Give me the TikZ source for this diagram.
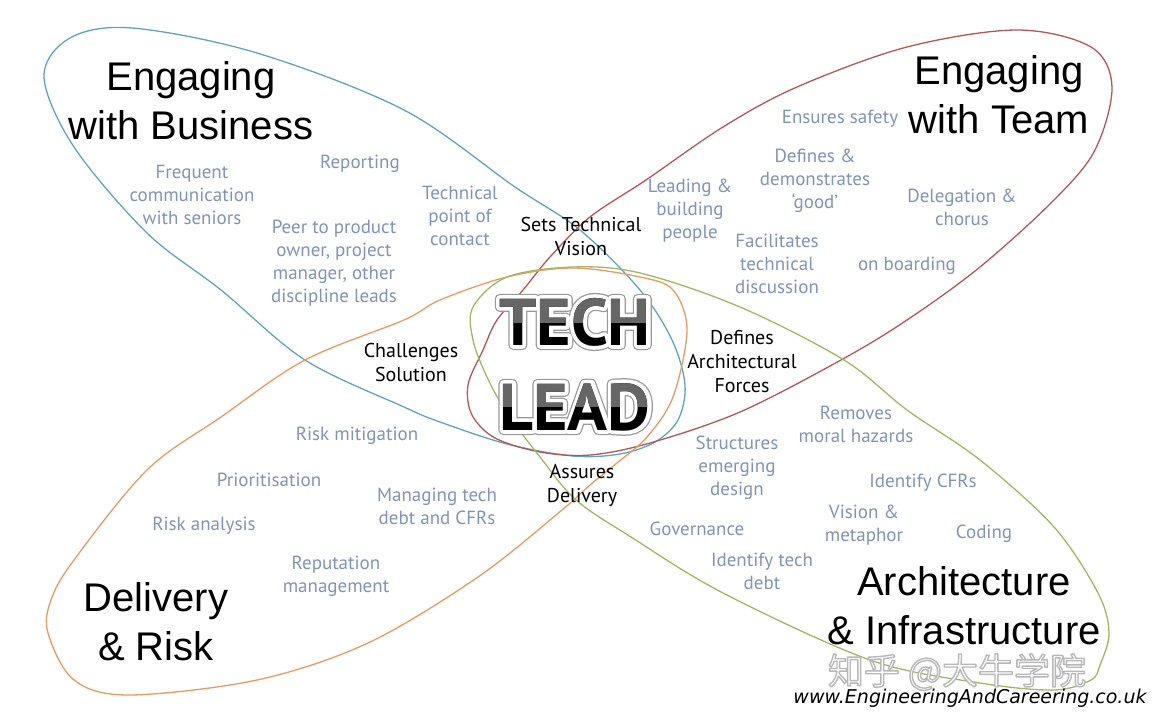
\documentclass[tikz,border=0pt]{standalone}
\usepackage{fontspec}
\setmainfont{PT Sans}
\newfontfamily\titlefont{Liberation Sans}
\newfontfamily\cjkfont{Noto Sans CJK SC}
\newfontfamily\sigfont{DejaVu Sans}
\definecolor{pblue}{RGB}{95,165,195}
\definecolor{pred}{RGB}{185,85,85}
\definecolor{porange}{RGB}{235,155,95}
\definecolor{pgreen}{RGB}{160,185,95}
\definecolor{itemc}{RGB}{128,148,184}
% stroked text: #1 = stroke width (bp), #2 = stroke colour as "r g b", #3 = text
\newcommand\strokedtext[3]{\special{pdf:literal direct 2 Tr #1 w 1 j #2 RG}#3\special{pdf:literal direct 0 Tr 0.4 w 0 j}}
\tikzset{
  item/.style={text=itemc, font=\fontsize{19}{23}\selectfont, align=center, inner sep=0pt},
  keylab/.style={text=black, font=\fontsize{20}{24}\selectfont, align=center, inner sep=0pt},
  title/.style={text=black, font=\titlefont\fontsize{40}{49}\selectfont, align=center, inner sep=0pt},
  big/.style={font=\bfseries\fontsize{66}{66}\selectfont, inner sep=0pt},
  wmark/.style={font=\cjkfont\fontsize{36}{36}\selectfont, inner sep=0pt},
}
\begin{document}
\begin{tikzpicture}[x=1pt,y=-1pt]
\useasboundingbox (0,0) rectangle (1152,720);
\fill[white] (0,0) rectangle (1152,720);
% petals
\draw[pblue, line width=1.3pt] plot[smooth cycle, tension=0.55] coordinates {(44,77) (70,38) (132,28) (257,53) (404,110) (515,187) (580,230) (640,290) (672,340) (685,385) (678,420) (655,442) (620,454) (573,456) (507,444) (440,422) (404,407) (305,360) (221,290) (147,233) (74,147)};
\draw[pred, line width=1.3pt] plot[smooth cycle, tension=0.55] coordinates {(1017,30) (1091,47) (1112,87) (1095,150) (1054,200) (980,267) (907,320) (841,360) (740,412) (650,443) (590,455) (540,452) (495,438) (472,415) (468,385) (483,350) (497,320) (523,290) (550,257) (590,217) (646,180) (723,127) (797,87) (907,47)};
\draw[porange, line width=1.3pt] plot[smooth cycle, tension=0.55] coordinates {(562,510) (590,485) (617,463) (647,437) (673,397) (687,330) (673,290) (640,277) (573,268) (507,277) (440,300) (404,320) (305,360) (221,417) (147,470) (74,560) (51,600) (48,633) (74,680) (129,695) (257,680) (368,643) (478,577)};
\draw[pgreen, line width=1.3pt] plot[smooth cycle, tension=0.55] coordinates {(473,307) (507,277) (573,267) (640,273) (740,307) (844,360) (907,410) (980,460) (1054,527) (1098,593) (1109,633) (1100,665) (1091,680) (1054,690) (980,683) (870,660) (723,593) (631,537) (576,500) (540,457) (507,413) (487,377) (473,340)};
% titles
\node[title] (tbus) at (191,101) {Engaging\\with Business};
\node[title] (tteam) at (999,95) {Engaging\\with Team};
\node[title] (tdel) at (156,622) {Delivery\\\& Risk};
\node[title] (tarch) at (964,606) {Architecture\\\& Infrastructure};
% business items
\node[item] (b1) at (192,195) {Frequent\\communication\\with seniors};
\node[item] (b2) at (360,164) {Reporting};
\node[item] (b3) at (460,216) {Technical\\point of\\contact};
\node[item] (b4) at (334,263) {Peer to product\\owner, project\\manager, other\\discipline leads};
% team items
\node[item] (t1) at (840,119) {Ensures safety};
\node[item] (t2) at (815,181) {Defines \&\\demonstrates\\‘good’};
\node[item] (t3) at (690,211) {Leading \&\\building\\people};
\node[item] (t4) at (962,207) {Delegation \&\\chorus};
\node[item] (t5) at (777,264) {Facilitates\\technical\\discussion};
\node[item] (t6) at (907,266) {on boarding};
% architecture items
\node[item] (a1) at (856,424) {Removes\\moral hazards};
\node[item] (a2) at (737,468) {Structures\\emerging\\design};
\node[item] (a3) at (923,483) {Identify CFRs};
\node[item] (a4) at (864,525) {Vision \&\\metaphor};
\node[item] (a5) at (984,534) {Coding};
\node[item] (a6) at (697,529) {Governance};
\node[item] (a7) at (762,571) {Identify tech\\debt};
% delivery items
\node[item] (d1) at (357,436) {Risk mitigation};
\node[item] (d2) at (269,480) {Prioritisation};
\node[item] (d3) at (204,526) {Risk analysis};
\node[item] (d4) at (437,506) {Managing tech\\debt and CFRs};
\node[item] (d5) at (336,576) {Reputation\\management};
% key labels
\node[keylab] (k1) at (581,236) {Sets Technical\\Vision};
\node[keylab] (k2) at (411,362) {Challenges\\Solution};
\node[keylab] (k3) at (742,362) {Defines\\Architectural\\Forces};
\node[keylab] (k4) at (582,485) {Assures\\Delivery};
% TECH LEAD (outlined lettering)
\node[big, text=black!40] at (575,322) {\strokedtext{10}{0.6 0.6 0.6}{TECH}};
\node[big, text=black!40] at (575,407) {\strokedtext{10}{0.6 0.6 0.6}{LEAD}};
\node[big, text=white] at (575,322) {\strokedtext{7.5}{1 1 1}{TECH}};
\node[big, text=white] at (575,407) {\strokedtext{7.5}{1 1 1}{LEAD}};
\node[big, text=black] (tech) at (575,322) {TECH};
\node[big, text=black] (lead) at (575,407) {LEAD};
\begin{scope}
\clip (480,280) rectangle (680,322) (480,365) rectangle (680,406);
\node[big, text=black!60] at (575,322) {TECH};
\node[big, text=black!60] at (575,407) {LEAD};
\end{scope}
% watermark
\node[wmark, text=white] (wm) at (957,672) {\strokedtext{1.4}{0.72 0.72 0.72}{知乎 @大牛学院}};
\node[font=\sigfont\itshape\fontsize{19}{19}\selectfont, text=black, inner sep=0pt] (sig) at (970,698) {www.EngineeringAndCareering.co.uk};
\end{tikzpicture}
\end{document}
